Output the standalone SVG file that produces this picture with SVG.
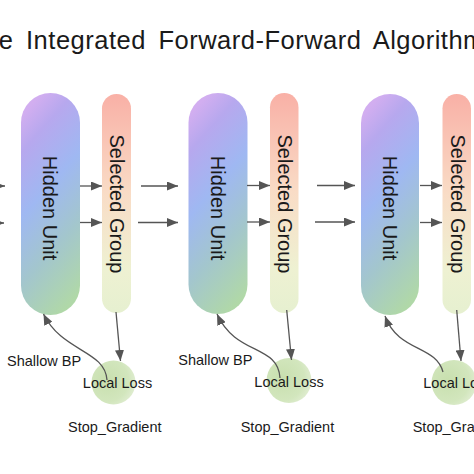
<svg xmlns="http://www.w3.org/2000/svg" width="474" height="474" viewBox="0 0 474 474">
<defs>
<linearGradient id="gHid" x1="0.35" y1="0" x2="0.65" y2="1">
<stop offset="0" stop-color="#d2aef0"/>
<stop offset="0.15" stop-color="#b7a8ee"/>
<stop offset="0.42" stop-color="#9fb8f2"/>
<stop offset="0.7" stop-color="#a3c6cd"/>
<stop offset="1" stop-color="#b0d8a8"/>
</linearGradient>
<linearGradient id="gSel" x1="0" y1="0" x2="0" y2="1">
<stop offset="0" stop-color="#f9b0a6"/>
<stop offset="0.45" stop-color="#f9dcc6"/>
<stop offset="0.8" stop-color="#eef1d2"/>
<stop offset="1" stop-color="#e6f0d0"/>
</linearGradient>
<radialGradient id="gLoss" cx="0.35" cy="0.45" r="0.7">
<stop offset="0" stop-color="#c8dfae"/>
<stop offset="0.7" stop-color="#d2e6bd"/>
<stop offset="1" stop-color="#e2eed4"/>
</radialGradient>
<marker id="ah" markerUnits="userSpaceOnUse" markerWidth="11" markerHeight="9" refX="11" refY="4.5" orient="auto">
<path d="M0,0 L11,4.5 L0,9 z" fill="#555"/>
</marker>
</defs>
<style>
text{font-family:"Liberation Sans",Arial,sans-serif;fill:#1a1a1a}
.big{font-size:20px}
.lbl{font-size:14.5px}
.hid{fill:url(#gHid)}
.sel{fill:url(#gSel)}
.loss{fill:url(#gLoss)}
.c{fill:none;stroke:#555;stroke-width:1.3;marker-end:url(#ah)}
</style>
<rect width="474" height="474" fill="#ffffff"/>
<text id="title" x="-32" y="48.5" style="font-size:25.5px;letter-spacing:0.5px;word-spacing:5px">The Integrated Forward-Forward Algorithm</text>

<g id="hidden1"><rect class="hid" x="21" y="93" width="59" height="222" rx="29.5"/><text class="big" transform="translate(43,208) rotate(90)" text-anchor="middle">Hidden Unit</text></g>
<g id="selected1"><rect class="sel" x="102" y="94" width="29" height="219" rx="14.5"/><text class="big" transform="translate(110,204) rotate(90)" text-anchor="middle">Selected Group</text></g>
<g id="loss1"><circle class="loss" cx="113.5" cy="382.5" r="22"/><text class="lbl" x="117.5" y="388" text-anchor="middle">Local Loss</text></g>

<g id="hidden2"><rect class="hid" x="188.5" y="93" width="59" height="221" rx="29.5"/><text class="big" transform="translate(210.5,208) rotate(90)" text-anchor="middle">Hidden Unit</text></g>
<g id="selected2"><rect class="sel" x="270" y="93" width="28.5" height="220" rx="14.25"/><text class="big" transform="translate(277.5,204) rotate(90)" text-anchor="middle">Selected Group</text></g>
<g id="loss2"><circle class="loss" cx="289" cy="380.5" r="22.5"/><text class="lbl" x="289" y="386.5" text-anchor="middle">Local Loss</text></g>

<g id="hidden3"><rect class="hid" x="361" y="94" width="58" height="221" rx="29"/><text class="big" transform="translate(382.5,208) rotate(90)" text-anchor="middle">Hidden Unit</text></g>
<g id="selected3"><rect class="sel" x="442.5" y="94" width="28.5" height="220" rx="14.25"/><text class="big" transform="translate(450.5,204) rotate(90)" text-anchor="middle">Selected Group</text></g>
<g id="loss3"><circle class="loss" cx="454" cy="382.5" r="22.5"/><text class="lbl" x="423.3" y="388">Local Loss</text></g>

<g id="connectors">
<line class="c" x1="-30" y1="186" x2="5" y2="186"/>
<line class="c" x1="-30" y1="223" x2="4" y2="223"/>
<line class="c" x1="80" y1="186" x2="102" y2="186"/>
<line class="c" x1="80" y1="222.5" x2="102" y2="222.5"/>
<line class="c" x1="141" y1="186" x2="178" y2="186"/>
<line class="c" x1="138" y1="222.5" x2="178" y2="222.5"/>
<line class="c" x1="247" y1="185.5" x2="270" y2="185.5"/>
<line class="c" x1="247" y1="222" x2="270" y2="222"/>
<line class="c" x1="317" y1="185.5" x2="355" y2="185.5"/>
<line class="c" x1="315" y1="222" x2="355" y2="222"/>
<line class="c" x1="420" y1="185.5" x2="442" y2="185.5"/>
<line class="c" x1="420" y1="222.5" x2="442" y2="222.5"/>
<line class="c" x1="116" y1="312" x2="120.5" y2="361"/>
<line class="c" x1="286.7" y1="310" x2="291.5" y2="360"/>
<line class="c" x1="456.7" y1="310" x2="461" y2="361"/>
<path class="c" d="M107,380 C105,350 62,352 43.5,314"/>
<path class="c" d="M280,378 C278,344 236,356 217,314"/>
<path class="c" d="M443,372 C436,345 398,352 385,316"/>
</g>
<g id="labels">
<text class="lbl" x="7" y="366">Shallow BP</text>
<text class="lbl" x="178.3" y="365">Shallow BP</text>
<text class="lbl" x="68" y="431.7">Stop_Gradient</text>
<text class="lbl" x="240.7" y="431.7">Stop_Gradient</text>
<text class="lbl" x="412.7" y="431.7">Stop_Gradient</text>
</g>
</svg>
